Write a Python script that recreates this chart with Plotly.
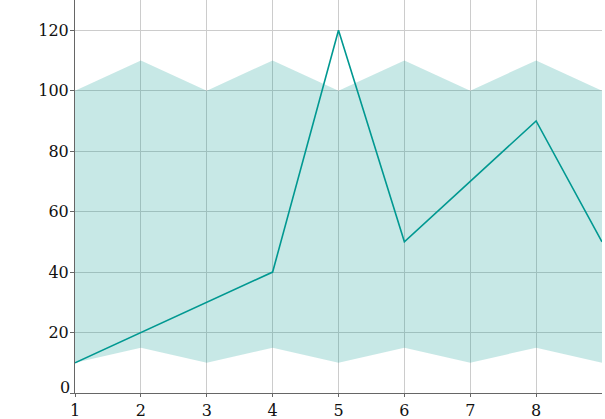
import plotly.graph_objects as go

x = [1, 2, 3, 4, 5, 6, 7, 8, 9]
haut = [100, 110, 100, 110, 100, 110, 100, 110, 100]
bas = [10, 15, 10, 15, 10, 15, 10, 15, 10]
valeurs = [10, 20, 30, 40, 120, 50, 70, 90, 50]
graduations_y = [0, 20, 40, 60, 80, 100, 120]

fig = go.Figure()

fig.add_trace(go.Scatter(x=x, y=bas, mode='lines', line=dict(width=0), hoverinfo='skip', showlegend=False))
fig.add_trace(go.Scatter(x=x, y=haut, mode='lines', line=dict(width=0), fill='tonexty',
                         fillcolor='rgba(0,150,140,0.22)', hoverinfo='skip', showlegend=False))
fig.add_trace(go.Scatter(x=x, y=valeurs, mode='lines', line=dict(color='#009891', width=1.6), showlegend=False))

police = dict(family='DejaVu Serif', size=16, color='#111')

fig.update_layout(
    width=605, height=419,
    margin=dict(l=75, r=3, t=0, b=26),
    plot_bgcolor='white', paper_bgcolor='white',
    font=police,
)
fig.update_xaxes(range=[1, 9], tickvals=[1, 2, 3, 4, 5, 6, 7, 8], showgrid=True, gridcolor='#cccccc',
                 zeroline=False, showline=True, linecolor='#666', linewidth=1,
                 ticks='outside', ticklen=3, tickcolor='#666', tickfont=police)
# le "0" est un peu remonté dans l'original, on le met en annotation
fig.update_yaxes(range=[0, 130], tickvals=graduations_y,
                 ticktext=[''] + [str(v) for v in graduations_y[1:]],
                 showgrid=True, gridcolor='#cccccc',
                 zeroline=False, showline=True, linecolor='#666', linewidth=1,
                 ticks='outside', ticklen=4, tickcolor='#666', tickfont=police,
                 ticklabelstandoff=-2)
fig.add_annotation(x=0, xref='paper', xanchor='right', xshift=-3, y=0, yref='y', yshift=6,
                   text=str(graduations_y[0]), showarrow=False, font=police)

# la page a une marge de 8px par défaut
fig.write_html('out.html', config={'displayModeBar': False},
               post_script="document.body.style.margin='0px';")
